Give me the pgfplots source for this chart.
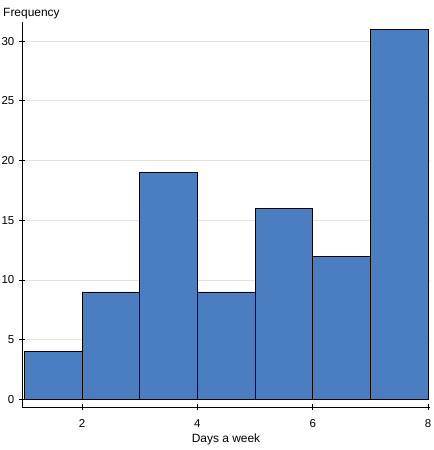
\documentclass[border=0pt]{standalone}
\usepackage{fontspec}
\setmainfont{Liberation Sans}
\usepackage{pgfplots}
\pgfplotsset{compat=1.18}
\definecolor{barblue}{RGB}{74,126,193}
\definecolor{gridgray}{RGB}{226,226,226}
\begin{document}
\begin{tikzpicture}
\path[use as bounding box] (-22bp,-43bp) rectangle (412bp,407bp);
\begin{axis}[
  at={(0,0)}, anchor=south west,
  scale only axis,
  width=408bp, height=385bp,
  xmin=0.957, xmax=8.035,
  ymin=-0.63, ymax=31.6,
  axis lines*=left,
  axis line style={line width=1bp, black},
  xtick={2,4,6,8},
  ytick={0,5,10,15,20,25,30},
  ymajorgrids,
  grid style={gridgray, line width=0.8bp},
  major tick length=6bp,
  tick align=center,
  tick style={black, line width=0.8bp},
  /pgf/number format/assume math mode=true,
  ticklabel style={font=\fontsize{11.5}{13}\selectfont, inner sep=0pt},
  xticklabel style={anchor=base, yshift=-17bp},
  yticklabel style={anchor=east, xshift=-4.5bp},
  xlabel={Days a week},
  ylabel={Frequency},
  label style={font=\fontsize{12}{14}\selectfont, inner sep=0pt},
  xlabel style={at={(axis description cs:0.5,0)}, anchor=base, yshift=-35.3bp},
  ylabel style={rotate=-90, at={(axis description cs:0,1)}, anchor=base west, xshift=-19bp, yshift=5.7bp},
  clip=false,
]
\addplot[ybar interval, fill=barblue, draw=black, line width=0.9bp]
  coordinates {(1,4) (2,9) (3,19) (4,9) (5,16) (6,12) (7,31) (8,31)};
\end{axis}
\end{tikzpicture}
\end{document}
